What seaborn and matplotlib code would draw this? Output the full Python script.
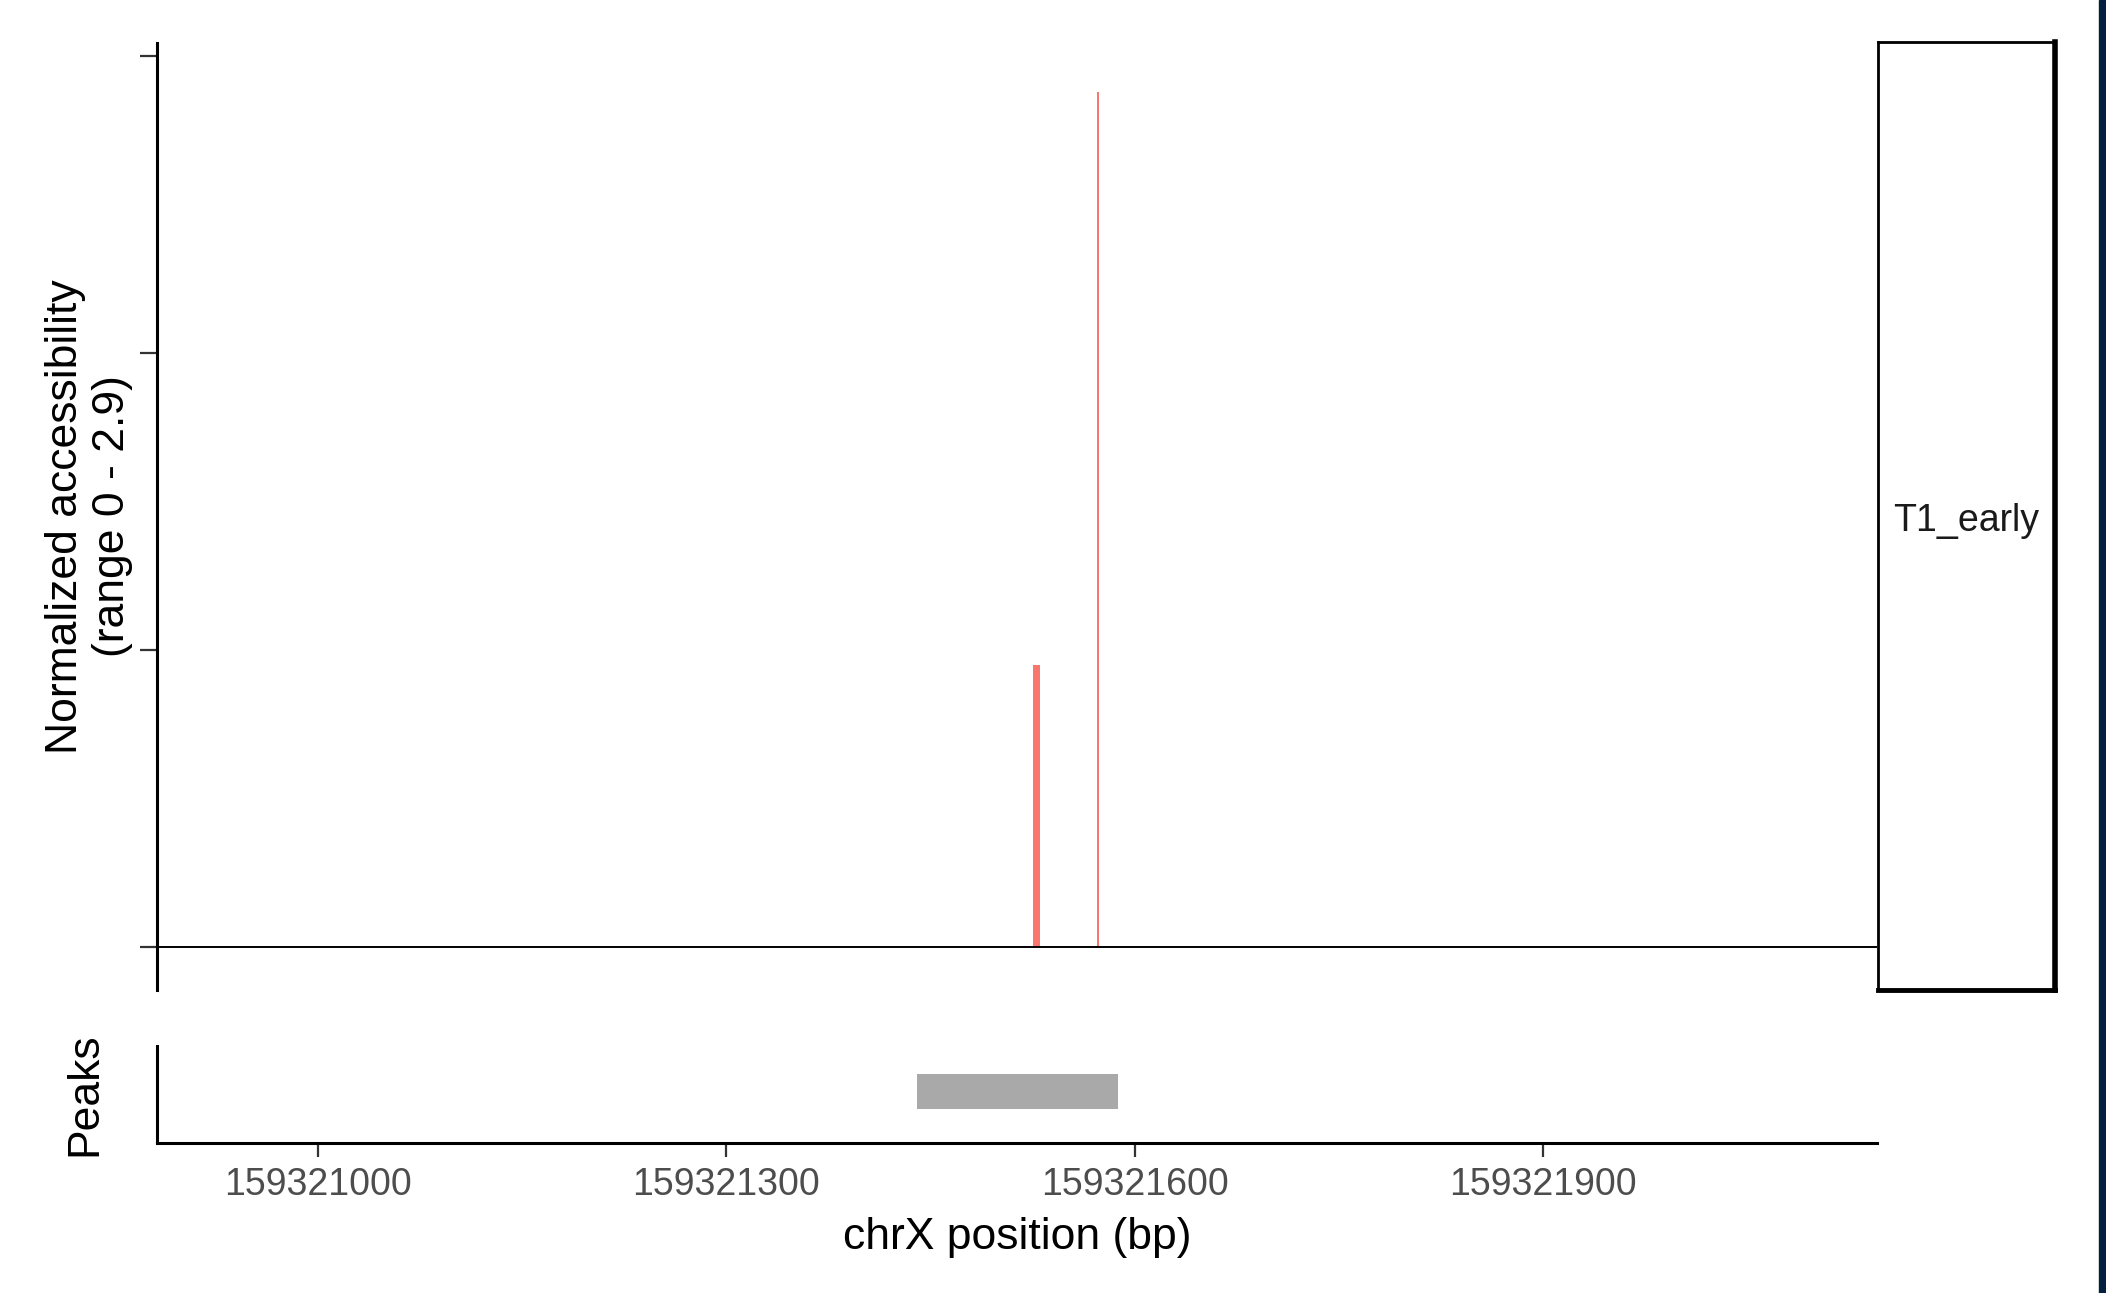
import numpy as np
import pandas as pd
import matplotlib
matplotlib.use("Agg")
import matplotlib.pyplot as plt
from matplotlib.patches import Rectangle
import seaborn as sns

# ---------- DATA ----------
region_start = 159320882
region_end = 159322145
chrom = "chrX"
group_name = "T1_early"
max_signal = 2.9

# coverage bars (position, width in bp, normalized signal)
cov_pos = [159321528, 159321573]
cov_width = [5, 2]
cov_signal = [0.95, 2.88]

# peaks
peak_start = [159321440]
peak_end = [159321588]

x_ticks = [159321000, 159321300, 159321600, 159321900]
y_ticks = [0, 1, 2, 3]

cov = pd.DataFrame({"pos": cov_pos, "width": cov_width, "signal": cov_signal})
peaks = pd.DataFrame({"start": peak_start, "end": peak_end})

# ---------- STYLE ----------
sns.set_theme(style="ticks")
plt.rcParams["font.family"] = ["Liberation Sans", "DejaVu Sans"]

W, H = 2106, 1293
fig = plt.figure(figsize=(W / 100, H / 100), dpi=100)
fig.patch.set_facecolor("white")


def box(x0, y0, x1, y1):
    # pixel box -> figure fraction
    return [x0 / W, 1 - y1 / H, (x1 - x0) / W, (y1 - y0) / H]


ax = fig.add_axes(box(157, 43, 1877, 990))
ax_pk = fig.add_axes(box(157, 1046, 1877, 1143), sharex=ax)
ax_strip = fig.add_axes(box(1878, 42, 2055, 990))

# ---------- COVERAGE TRACK ----------
ax.bar(cov["pos"], cov["signal"], width=cov["width"], color="#F8766D",
       edgecolor="none", align="center")
ax.axhline(0, color="black", lw=1.4)
pad = 0.05 * max_signal
ax.set_ylim(-pad, 3 + pad * 0.3)
ax.set_xlim(region_start, region_end)
ax.set_yticks(y_ticks)
ax.set_yticklabels([])
ax.tick_params(axis="y", length=12, width=1.6, color="#333333")
ax.tick_params(axis="x", bottom=False, labelbottom=False)
for s in ["top", "right", "bottom"]:
    ax.spines[s].set_visible(False)
ax.spines["left"].set_linewidth(2.2)
ax.spines["left"].set_color("black")
ax.set_ylabel("Normalized accessibility\n(range 0 - %.1f)" % max_signal,
              fontsize=32, color="black", linespacing=1.2)

# ---------- STRIP ----------
ax_strip.set_xticks([])
ax_strip.set_yticks([])
for s in ax_strip.spines.values():
    s.set_visible(True)
    s.set_color("black")
    s.set_linewidth(2.0)
ax_strip.spines["right"].set_linewidth(4)
ax_strip.spines["bottom"].set_linewidth(3.5)
ax_strip.text(0.5, 0.495, group_name, ha="center", va="center",
              fontsize=27, color="#1A1A1A", transform=ax_strip.transAxes)

# ---------- PEAKS TRACK ----------
ax_pk.barh(y=[0.53] * len(peaks), width=peaks["end"] - peaks["start"],
           left=peaks["start"], height=0.36, color="#A9A9A9", edgecolor="none")
ax_pk.set_ylim(0, 1)
ax_pk.set_yticks([])
ax_pk.set_xticks(x_ticks)
ax_pk.set_xticklabels([str(t) for t in x_ticks])
ax_pk.tick_params(axis="x", length=10, width=1.6, color="#333333",
                  labelsize=27, labelcolor="#4D4D4D", pad=7)
for s in ["top", "right"]:
    ax_pk.spines[s].set_visible(False)
for s in ["left", "bottom"]:
    ax_pk.spines[s].set_linewidth(2.2)
    ax_pk.spines[s].set_color("black")
ax_pk.set_ylabel("Peaks", fontsize=32, color="black")
ax_pk.set_xlabel("%s position (bp)" % chrom, fontsize=32, color="black",
                 labelpad=10)

# y label placement
ax.yaxis.set_label_coords(-0.014, 0.5)
ax_pk.yaxis.set_label_coords(-0.03, 0.5)

# dark screenshot edge on the right
fig.patches.append(Rectangle((2099 / W, 0), 7 / W, 1, transform=fig.transFigure,
                             color="#03213F", zorder=10))

fig.savefig("out.png", dpi=100)
